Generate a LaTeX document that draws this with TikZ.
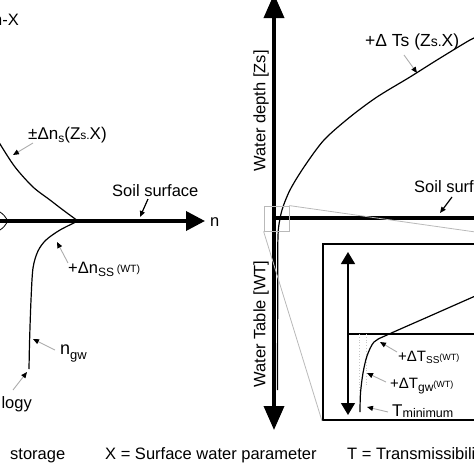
\documentclass[tikz,border=0pt]{standalone}
\usepackage{fontspec}
\setmainfont{Liberation Sans}
\usetikzlibrary{arrows.meta}
\newcommand\fsz[1]{\fontsize{#1}{#1}\selectfont}
\newcommand\lowr[2]{\raisebox{-#1}{#2}}
\begin{document}
\begin{tikzpicture}[x=1pt,y=-1pt,
  txt/.style={inner sep=0pt, font=\fsz{16.5}},
  small/.style={inner sep=0pt, font=\fsz{15}},
  axis/.style={line width=3.6pt},
  lbl/.style={draw=gray!65, line width=0.9pt, -{Triangle[length=6pt,width=5pt,color=black]}},
  blk/.style={draw=black, line width=1.2pt, -{Triangle[length=6pt,width=5pt]}},
  zoomln/.style={draw=gray!55, line width=0.8pt},
  crv/.style={line width=1.2pt}]
\useasboundingbox (0,0) rectangle (474,474);
\clip (0,0) rectangle (474,474);

% ---------------- left panel ----------------
\node[txt, anchor=base east] (title) at (19,25) {n-X};
\coordinate (LA) at (-2,221);
\coordinate (LB) at (205,221);
\draw[axis, -{Triangle[length=19pt,width=19pt]}] (LA) -- (LB);
\node[txt, anchor=base west] (nlab) at (210,226) {n};
\draw[line width=0.8pt] (0,212) .. controls (4,215) .. (8,221) .. controls (4,227) .. (0,230);

\draw[crv] plot[smooth] coordinates {(-3,138) (0,144) (15,167) (33,187) (50,200) (63,210) (78,221)};
\draw[crv] plot[smooth] coordinates {(78,221) (60,230) (46,240) (38,251) (33,268) (31,300) (29.6,340) (29,369)};
\coordinate (cu) at (13,155);
\coordinate (cl) at (57,242);
\coordinate (cg) at (33,339);
\coordinate (ce) at (27,372);
\coordinate (cs) at (140,217);

\node[txt, anchor=base west, font=\fsz{17}] (dns) at (28,139) {±Δn\lowr{3pt}{\fsz{12}s}(Z{\fsz{12}s.}X)};
\draw[lbl] (33,143) -- (cu);
\node[txt, anchor=base west] (surfL) at (112,196) {Soil surface};
\draw[blk] (148,199) -- (cs);
\node[txt, anchor=base west] (dnss) at (68,273) {+Δn\lowr{3pt}{\fsz{12}SS}\,\raisebox{1pt}{\fsz{10.5}(WT)}};
\draw[lbl] (68,263) -- (cl);
\node[txt, anchor=base west, font=\fsz{18}] (ngw) at (60,354) {n\lowr{5pt}{\fsz{13}gw}};
\draw[lbl] (55,350) -- (cg);
\node[txt, anchor=base east] (geo) at (32,408) {logy};
\draw[lbl] (13,390) -- (ce);

% legend
\node[txt, anchor=base west] (leg1) at (10,459) {storage};
\node[txt, anchor=base west] (leg2) at (105,459) {X = Surface water parameter};
\node[txt, anchor=base west] (leg3) at (347,459) {T = Transmissibility};

% ---------------- right panel ----------------
\coordinate (RT) at (274,-6);
\coordinate (RB) at (274,430);
\draw[axis, {Triangle[length=24pt,width=20pt]}-{Triangle[length=24pt,width=20pt]}] (RT) -- (RB);
\coordinate (RL) at (274,218);
\coordinate (RR) at (480,218);
\draw[axis] (RL) -- (RR);

\draw[crv] plot[smooth] coordinates {(480,36) (470,40) (437,60) (410,77) (377,97) (350,117) (324,140) (304,167) (290,190) (282,210) (278.5,228) (277.8,245)} -- (277.5,390);

\node[txt, rotate=90] (wd) at (261,111) {Water depth [Zs]};
\node[txt, rotate=90] (wt) at (261,324) {Water Table [WT]};

\node[txt, anchor=base west, font=\fsz{17.5}] (dts) at (365,46) {+Δ Ts (Z{\fsz{14}s.}X)};
\coordinate (cT) at (417,73);
\draw[lbl] (404,55) -- (cT);
\node[txt, anchor=base west] (surfR) at (414,192) {Soil surface};
\coordinate (cR) at (440,213);
\draw[blk] (452,197) -- (cR);

% zoom box and inset
\node[draw=gray!55, line width=0.8pt, minimum width=25pt, minimum height=25pt, inner sep=0pt] (zb) at (276.5,218.5) {};
\node[draw=black, line width=2pt, minimum width=229pt, minimum height=176pt, inner sep=0pt] (inset) at (437.5,332) {};
\draw[zoomln] (zb.north east) -- (inset.north east);
\draw[zoomln] (zb.south west) -- (inset.south west);

\coordinate (IT) at (348,252);
\coordinate (IB) at (348,415);
\draw[line width=1.5pt, {Triangle[length=12pt,width=14pt]}-{Triangle[length=12pt,width=14pt]}] (IT) -- (IB);
\coordinate (HL) at (348,334);
\coordinate (HR) at (560,334);
\draw[line width=1.5pt] (HL) -- (HR);
\draw[gray!45, dotted, line width=0.8pt] (359,334) -- (359,392);
\draw[gray!45, dotted, line width=0.8pt] (366,334) -- (366,386);
\draw[crv] plot[smooth] coordinates {(480,294) (473,297) (430,316) (387,335) (374,342) (367,356) (363,373) (360.5,393) (360,412)};

\coordinate (c1) at (380,342);
\coordinate (c2) at (367,373);
\coordinate (c3) at (367,407);
\node[small, anchor=base west] (tss) at (398,361) {+ΔT\lowr{2pt}{\fsz{10}SS}\raisebox{1pt}{\fsz{9}(WT)}};
\draw[lbl] (397,352) -- (c1);
\node[small, anchor=base west] (tgw) at (390,388) {+ΔT\lowr{3pt}{\fsz{12}gw}\raisebox{1pt}{\fsz{9}(WT)}};
\draw[lbl] (386,382) -- (c2);
\node[small, anchor=base west, font=\fsz{17}] (tmin) at (392,416) {T\lowr{1pt}{\fsz{12.5}minimum}};
\draw[lbl] (388,412) -- (c3);
\end{tikzpicture}
\end{document}
